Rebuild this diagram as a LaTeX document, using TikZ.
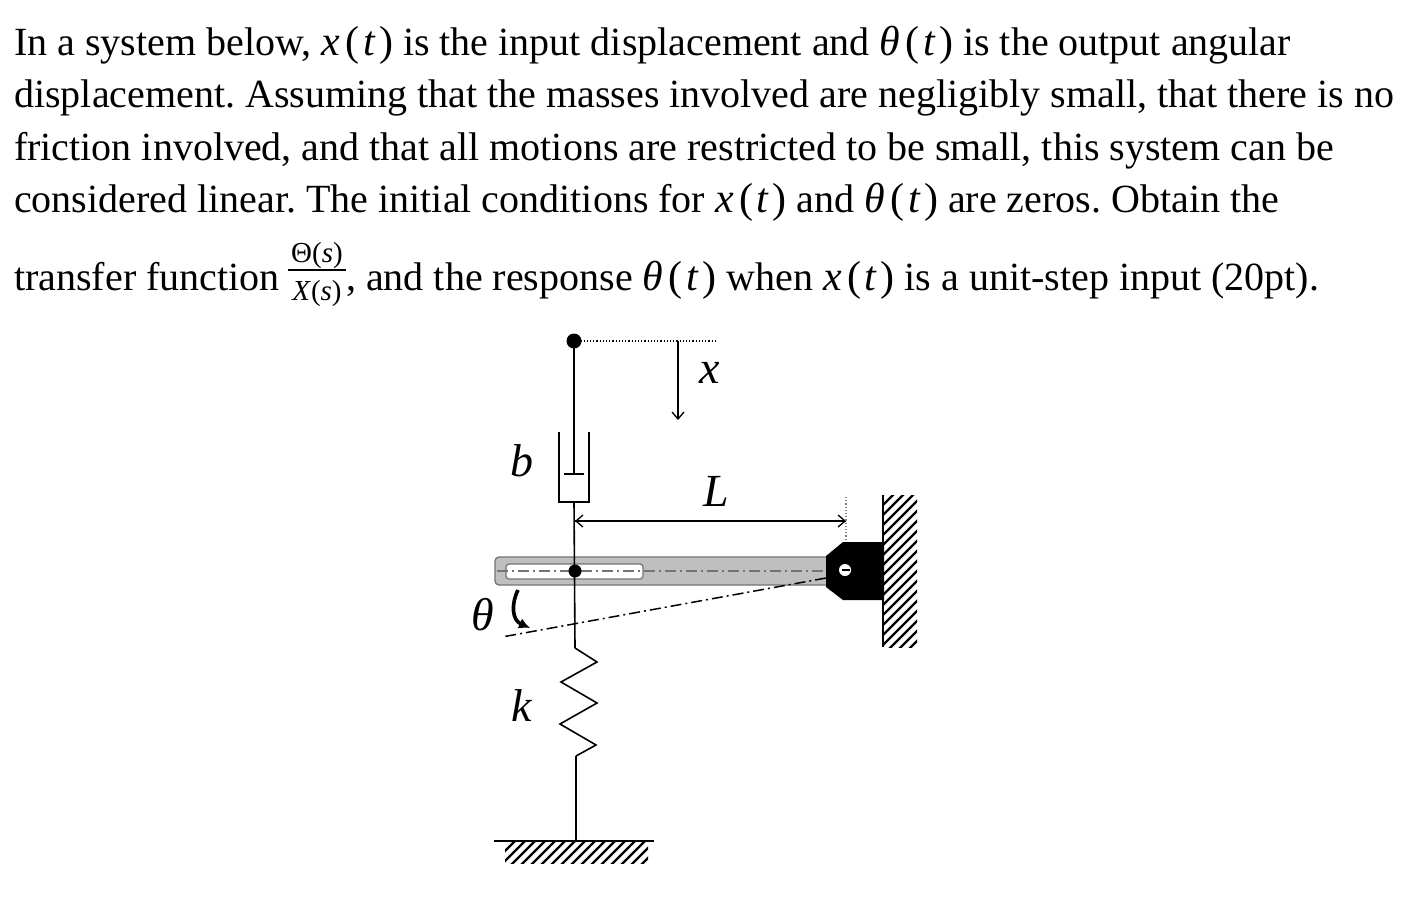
\documentclass[tikz,border=0pt]{standalone}
\usepackage{fontspec}
\setmainfont{Liberation Serif}
\usetikzlibrary{arrows.meta}
\newcommand{\mi}[1]{\textit{#1}}
\newcommand{\fnx}[2]{{\fontsize{42}{45}\selectfont\mi{#1}\kern5.5pt(\kern3.5pt\mi{#2}\kern3.5pt)}}
\begin{document}
\frenchspacing
\begin{tikzpicture}[x=1pt,y=-1pt,
  txt/.style={anchor=base west,inner sep=0pt,font=\fontsize{40}{45}\selectfont},
  frac/.style={anchor=base,inner sep=0pt,font=\fontsize{29}{30}\selectfont},
  lbl/.style={inner sep=0pt,font=\fontsize{46}{50}\selectfont\itshape},
  mech/.style={line width=1.6pt,black},
  thin/.style={line width=1.3pt,black},
  dashdot/.style={dash pattern=on 11pt off 4pt on 2pt off 4pt},
  barb/.style={-{Straight Barb[length=7pt,width=12pt,line width=1.3pt]}}
]
\useasboundingbox (0,0) rectangle (1408,908);
\fill[white] (0,0) rectangle (1408,908);
% ---------- text ----------
\node[txt] (l1) at (14,55) {In a system below, \fnx{x}{t} is the input displacement and \fnx{θ}{t} is the output angular};
\node[txt] (l2) at (14,107.5) {displacement. Assuming that the masses involved are negligibly small, that there is no};
\node[txt] (l3) at (14,160) {friction involved, and that all motions are restricted to be small, this system can be};
\node[txt] (l4) at (14,212.5) {considered linear. The initial conditions for \fnx{x}{t} and \fnx{θ}{t} are zeros. Obtain the};
\node[txt] (l5a) at (14,290) {transfer function};
\node[frac] (num) at (317,262) {Θ(\mi{s})};
\node[frac] (den) at (317,300) {\mi{X}(\mi{s})};
\coordinate (fb1) at (288,270);
\coordinate (fb2) at (346,270);
\draw[line width=1.3pt] (fb1) -- (fb2);
\node[txt] (l5b) at (346,290) {, and the response \fnx{θ}{t} when \fnx{x}{t} is a unit-step input (20pt).};
% ---------- diagram ----------
\coordinate (dot) at (574,341);
\coordinate (dotE) at (717,341);
\coordinate (xa) at (678,341);
\coordinate (xb) at (678,420);
\draw[line width=1.2pt,dotted] (dot) -- (dotE);
\draw[thin,barb] (xa) -- (xb);
\node[lbl] (xl) at (710,373) {x};
% rod and dashpot
\coordinate (pist) at (574,474);
\draw[mech] (dot) -- (pist);
\coordinate (pl) at (564,474);
\coordinate (pr) at (584,474);
\draw[mech] (pl) -- (pr);
\coordinate (cw1) at (559,432);
\coordinate (cw2) at (559,502);
\coordinate (cw3) at (589,502);
\coordinate (cw4) at (589,432);
\draw[mech] (cw1) -- (cw2) -- (cw3) -- (cw4);
\node[lbl] (bl) at (522,461) {b};
% L dimension
\coordinate (La) at (575,521);
\coordinate (Lb) at (846,521);
\draw[thin,barb] (La) -- (Lb);
\draw[thin,barb] (Lb) -- (La);
\coordinate (vd1) at (846,497);
\coordinate (vd2) at (846,542);
\draw[line width=1.2pt,dotted,gray] (vd1) -- (vd2);
\node[lbl] (Ll) at (716,491) {L};
% bar
\draw[line width=1.3pt,draw=black!55,fill=black!25,rounded corners=4pt] (495,557) rectangle (832,585);
\draw[line width=1.2pt,draw=black!55,fill=white,rounded corners=3pt] (506,564) rectangle (643,579);
\coordinate (cl1) at (497,571);
\coordinate (cl2) at (828,571);
\draw[line width=1.8pt,black!55,dashdot] (cl1) -- (cl2);
% vertical line through bar down to spring
\coordinate (sp0) at (574,502);
\coordinate (sp1) at (575,648);
\draw[mech] (sp0) -- (sp1);
\fill (575,571) circle (6.5);
\fill (dot) circle (7.5);
% pivot block
\fill[black] (843,542) -- (884,542) -- (884,600) -- (843,600) -- (826,587) -- (826,556) -- cycle;
\fill[white] (845,570) circle (6);
\draw[line width=1.5pt] (842,570) -- (850,570);
% wall
\coordinate (w1) at (883,495);
\coordinate (w2) at (883,647);
\begin{scope}
\clip (883,495) rectangle (917,647);
\foreach \i in {0,10,...,200}{
  \draw[line width=2.4pt] (883,495+\i) -- ++(40,-40);
}
\end{scope}
\draw[line width=2pt] (w1) -- (w2);
% deflected line and theta
\coordinate (d1) at (826,578);
\coordinate (d2) at (502,637);
\draw[line width=1.5pt,dashdot] (d1) -- (d2);
\node[lbl] (tl) at (483,615) {θ};
\coordinate (ta) at (518,590);
\coordinate (tb) at (530,628);
\draw[line width=3.6pt,-{Latex[length=11pt,width=11pt]}] (ta) .. controls (511,604) and (512,620) .. (tb);
% spring
\coordinate (sp2) at (576,756);
\draw[mech,line join=miter] (sp1) -- (597,662) -- (561,682) -- (597,703) -- (560,724) -- (596,745) -- (sp2);
\coordinate (gnd) at (576,841);
\draw[mech] (sp2) -- (gnd);
\node[lbl] (kl) at (522,706) {k};
% ground
\coordinate (g1) at (494,841);
\coordinate (g2) at (654,841);
\draw[line width=1.8pt] (g1) -- (g2);
\begin{scope}
\clip (505,841) rectangle (648,863);
\foreach \i in {0,10,...,180}{
  \draw[line width=2.4pt] (490+\i,866) -- ++(28,-28);
}
\end{scope}
\end{tikzpicture}
\end{document}
